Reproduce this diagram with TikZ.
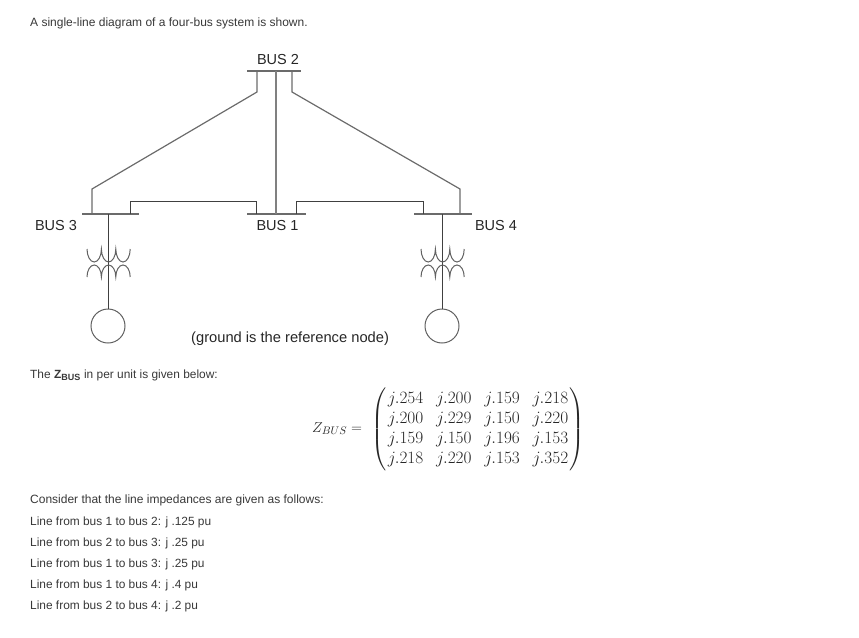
\documentclass[tikz,border=0pt]{standalone}
\usepackage{amsmath}
\usepackage{fontspec}
\setmainfont{Liberation Sans}
\tikzset{
  body/.style={anchor=base west,inner sep=0pt,text=black!78,font=\fontsize{11.9}{14}\selectfont},
  wide body/.style={body,font=\fontsize{12}{14}\selectfont},
  buslabel/.style={anchor=base,inner sep=0pt,text=black!85,font=\fontsize{14.5}{16}\selectfont},
  line/.style={draw=black!58,line width=1.2pt},
  thin line/.style={draw=black!75,line width=1pt},
  coil/.style={draw=black!62,line width=1pt},
  gen/.style={circle,draw=black!62,line width=1pt,minimum size=34pt,inner sep=0pt}
}
\newcommand{\coilset}[1]{%
  \draw[coil] (#1)++(-21.5,-15) arc[start angle=180,end angle=0,x radius=7.2,y radius=13]
     arc[start angle=180,end angle=0,x radius=7.2,y radius=13]
     arc[start angle=180,end angle=0,x radius=7.2,y radius=13];
  \draw[coil] (#1)++(-21.5,13) arc[start angle=180,end angle=360,x radius=7.2,y radius=12]
     arc[start angle=180,end angle=360,x radius=7.2,y radius=12]
     arc[start angle=180,end angle=360,x radius=7.2,y radius=12];
}
\begin{document}
\begin{tikzpicture}[x=1pt,y=-1pt]
\useasboundingbox (0,0) rectangle (859,637);
% bus bars
\coordinate (b2l) at (247,71); \coordinate (b2r) at (301,71);
\coordinate (b1l) at (247,214); \coordinate (b1r) at (306,214);
\coordinate (b3l) at (82,214); \coordinate (b3r) at (139,214);
\coordinate (b4l) at (414,214); \coordinate (b4r) at (472,214);
\draw[line] (b2l) -- (b2r);
\draw[line] (b1l) -- (b1r);
\draw[line] (b3l) -- (b3r);
\draw[line] (b4l) -- (b4r);
% connection points
\coordinate (p2a) at (257,71); \coordinate (p2b) at (276,71); \coordinate (p2c) at (292,71);
\coordinate (p1a) at (256,214); \coordinate (p1b) at (276,214); \coordinate (p1c) at (296,214);
\coordinate (p3a) at (92,214); \coordinate (p3b) at (130,214); \coordinate (p3c) at (108,214);
\coordinate (p4a) at (423,214); \coordinate (p4b) at (460,214); \coordinate (p4c) at (442,214);
% lines
\draw[line] (p2a) -- (257,92) -- (92,189) -- (p3a);
\draw[line] (p2c) -- (292,92) -- (460,189) -- (p4b);
\draw[line,line width=1.5pt,draw=black!50] (p2b) -- (p1b);
\draw[thin line] (p3b) -- (130,201) -- (256,201) -- (p1a);
\draw[thin line] (p1c) -- (296,201) -- (423,201) -- (p4a);
% generators
\node[gen] (g3) at (108,326) {};
\node[gen] (g4) at (442,326) {};
\draw[thin line] (p3c) -- (g3.north);
\draw[thin line] (p4c) -- (g4.north);
\coordinate (t3) at (108.5,264);
\coordinate (t4) at (442.5,264);
\coilset{t3}
\coilset{t4}
% labels
\node[wide body] (intro) at (30,26) {A single-line diagram of a four-bus system is shown.};
\node[buslabel] (l2) at (278,64) {BUS 2};
\node[buslabel] (l1) at (277.5,230) {BUS 1};
\node[buslabel] (l3) at (56,230) {BUS 3};
\node[buslabel] (l4) at (496,230) {BUS 4};
\node[buslabel,anchor=base west,font=\fontsize{14.7}{16}\selectfont] (gnd) at (191,342) {(ground is the reference node)};
\node[body] (zt) at (30,378) {The \textbf{Z}$_{\textbf{\fontsize{9}{10}\selectfont BUS}}$ in per unit is given below:};
\node[anchor=base west,inner sep=0pt,text=black!85,font=\fontsize{15.5}{19}\selectfont] (z) at (312,432) {$Z_{BUS}=$};
\node[anchor=center,inner sep=0pt,text=black!85,font=\fontsize{16}{20}\selectfont] (m) at (478,429) {$\left(\setlength{\arraycolsep}{6.4pt}\begin{array}{@{\hspace{1pt}}cccc@{\hspace{1pt}}}
j.254 & j.200 & j.159 & j.218\\
j.200 & j.229 & j.150 & j.220\\
j.159 & j.150 & j.196 & j.153\\
j.218 & j.220 & j.153 & j.352
\end{array}\right)$};
\node[wide body] (c0) at (30,503) {Consider that the line impedances are given as follows:};
\node[body] (c1) at (30,525) {Line from bus 1 to bus 2: j .125 pu};
\node[body] (c2) at (30,546) {Line from bus 2 to bus 3: j .25 pu};
\node[body] (c3) at (30,567) {Line from bus 1 to bus 3: j .25 pu};
\node[body] (c4) at (30,588) {Line from bus 1 to bus 4: j .4 pu};
\node[body] (c5) at (30,609) {Line from bus 2 to bus 4: j .2 pu};
\end{tikzpicture}
\end{document}
